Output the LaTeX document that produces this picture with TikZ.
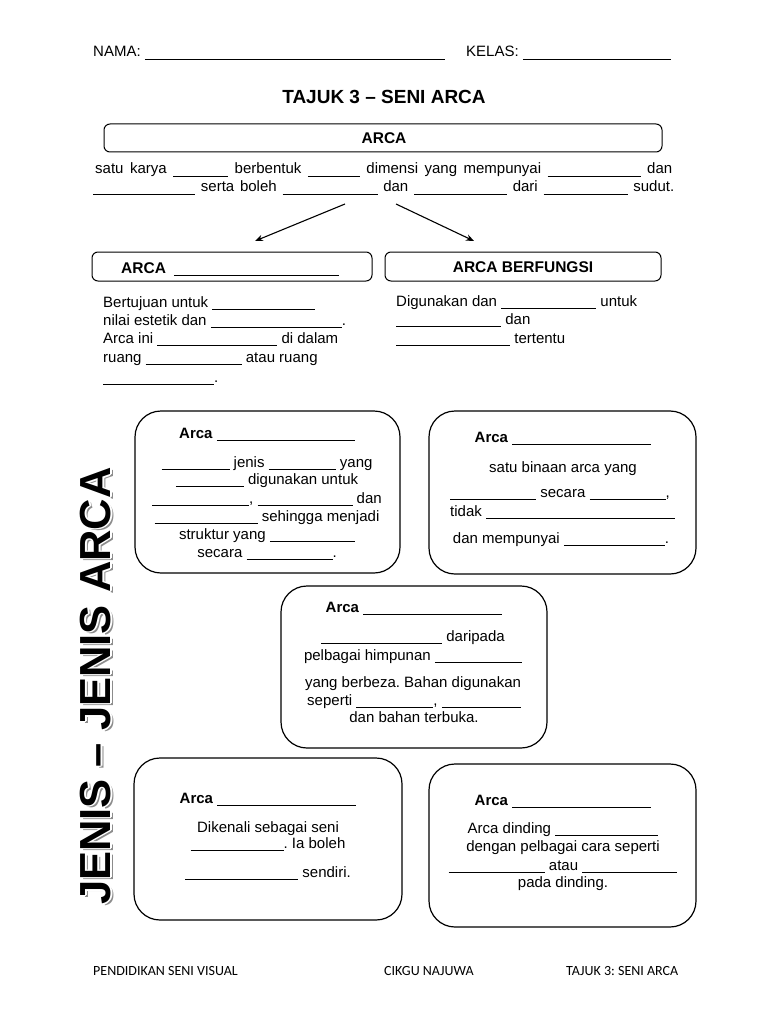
\documentclass[tikz,border=0pt]{standalone}
\usepackage{fontspec}
\setmainfont{Liberation Sans}
\newfontfamily\footfont{Carlito}
\usetikzlibrary{arrows.meta}
\newcommand{\blnk}[1]{\rule[-2.4pt]{#1pt}{0.7pt}}
\frenchspacing
\begin{document}
\begin{tikzpicture}[x=1pt,y=-1pt,
  ln/.style={anchor=base, inner sep=0pt, font=\fontsize{15}{18}\selectfont},
  lnw/.style={ln, anchor=base west},
  card/.style={draw, line width=1.2pt, rounded corners=26pt, inner sep=0pt},
  hdr/.style={draw, line width=1pt, rounded corners=6pt, inner sep=0pt},
  arr/.style={line width=1.1pt, -{Stealth[length=8pt,width=6.5pt]}},
  vt/.style={rotate=90, inner sep=0pt, font=\bfseries\fontsize{43.5}{46}\selectfont},
  foot/.style={anchor=base west, inner sep=0pt, font=\footfont\fontsize{14}{16}\selectfont}]
\fill[white] (0,0) rectangle (768,1024);
\useasboundingbox (0,0) rectangle (768,1024);

% header
\node[lnw] (nama) at (93,57) {NAMA: \blnk{300}};
\node[lnw] (kelas) at (466,57) {KELAS: \blnk{148}};
\node[anchor=base, inner sep=0pt, font=\bfseries\fontsize{19}{22}\selectfont] (title) at (384,104) {TAJUK 3 – SENI ARCA};

% ARCA definition
\node[hdr, minimum width=558pt, minimum height=28pt] (arcabox) at (383,138) {};
\node[ln, font=\bfseries\fontsize{15.5}{18}\selectfont] (arcat) at (384,143.5) {ARCA};
\node[lnw] (def1) at (95,174) {\makebox[577pt][s]{satu karya \blnk{55} berbentuk \blnk{52} dimensi yang mempunyai \blnk{93} dan}};
\node[lnw] (def2) at (93,192) {\makebox[581pt][s]{\blnk{102} serta boleh \blnk{95} dan \blnk{93} dari \blnk{84} sudut.}};

\coordinate (a1s) at (345,204);
\coordinate (a1e) at (255,241);
\coordinate (a2s) at (396,204);
\coordinate (a2e) at (474,241);
\draw[arr] (a1s) -- (a1e);
\draw[arr] (a2s) -- (a2e);

% two sub boxes
\node[hdr, minimum width=280pt, minimum height=29pt] (lbox) at (232,266.5) {};
\node[lnw, font=\bfseries\fontsize{15.5}{18}\selectfont] (lboxt) at (121,273) {ARCA\hspace{8pt}\blnk{165}};
\node[hdr, minimum width=276pt, minimum height=29pt] (rbox) at (523,266.5) {};
\node[ln, font=\bfseries\fontsize{15.5}{18}\selectfont] (rboxt) at (523,272.5) {ARCA BERFUNGSI};

\node[lnw] (l1) at (103,307) {Bertujuan untuk \blnk{103}};
\node[lnw] (l2) at (103,325) {nilai estetik dan \blnk{131}.};
\node[lnw] (l3) at (103,343) {Arca ini \blnk{120} di dalam};
\node[lnw] (l4) at (103,362) {ruang \blnk{96} atau ruang};
\node[lnw] (l5) at (103,382) {\blnk{111}.};

\node[lnw] (r1) at (396,306) {Digunakan dan \blnk{95} untuk};
\node[lnw] (r2) at (396,324) {\blnk{105} dan};
\node[lnw] (r3) at (396,343) {\blnk{114} tertentu};

% vertical title: grey shadow, white outline, black letters
\node[vt, text=black!45] (vshadow) at (99,688) {JENIS – JENIS ARCA};
\foreach \dx/\dy [count=\i] in {1.3/0,-1.3/0,0/1.3,0/-1.3,1/1,1/-1,-1/1,-1/-1}{
  \node[vt, text=white] (vhalo\i) at (96+\dx,686+\dy) {JENIS – JENIS ARCA};
}
\node[vt] (vtitle) at (96,686) {JENIS – JENIS ARCA};

% card 1
\node[card, minimum width=265pt, minimum height=162pt] (c1) at (267.5,492) {};
\node[ln] (c1t) at (267,438) {\textbf{Arca} \blnk{138}};
\node[ln] (c1a) at (267,467) {\blnk{68} jenis \blnk{67} yang};
\node[ln] (c1b) at (267,484) {\blnk{68} digunakan untuk};
\node[ln] (c1c) at (267,503) {\blnk{97}, \blnk{95} dan};
\node[ln] (c1d) at (267,521) {\blnk{103} sehingga menjadi};
\node[ln] (c1e) at (267,539) {struktur yang \blnk{85}};
\node[ln] (c1f) at (267,557) {secara \blnk{86}.};

% card 2
\node[card, minimum width=267pt, minimum height=163pt] (c2) at (562.5,492.5) {};
\node[ln] (c2t) at (563,442) {\textbf{Arca} \blnk{139}};
\node[ln] (c2a) at (563,472) {satu binaan arca yang};
\node[lnw] (c2b) at (450,497) {\blnk{86} secara \blnk{76},};
\node[lnw] (c2c) at (450,516) {tidak \blnk{189}};
\node[ln] (c2d) at (561,543) {dan mempunyai \blnk{101}.};

% card 3
\node[card, minimum width=266pt, minimum height=162pt] (c3) at (414,667) {};
\node[ln] (c3t) at (414,612) {\textbf{Arca} \blnk{139}};
\node[ln] (c3a) at (413,641) {\blnk{121} daripada};
\node[ln] (c3b) at (413,660) {pelbagai himpunan \blnk{87}};
\node[ln] (c3c) at (413,687) {yang berbeza. Bahan digunakan};
\node[ln] (c3d) at (414,705) {seperti \blnk{77}, \blnk{79}};
\node[ln] (c3e) at (414,722) {dan bahan terbuka.};

% card 4
\node[card, minimum width=268pt, minimum height=162pt] (c4) at (268,839) {};
\node[ln] (c4t) at (268,803) {\textbf{Arca} \blnk{139}};
\node[ln] (c4a) at (268,832) {Dikenali sebagai seni};
\node[ln] (c4b) at (268,848) {\blnk{93}. Ia boleh};
\node[ln] (c4c) at (268,877) {\blnk{113} sendiri.};

% card 5
\node[card, minimum width=267pt, minimum height=163pt] (c5) at (562.5,845.5) {};
\node[ln] (c5t) at (563,805) {\textbf{Arca} \blnk{139}};
\node[ln] (c5a) at (563,833) {Arca dinding \blnk{103}};
\node[ln] (c5b) at (563,851) {dengan pelbagai cara seperti};
\node[ln] (c5c) at (563,870) {\blnk{96} atau \blnk{95}};
\node[ln] (c5d) at (563,887) {pada dinding.};

% footer
\node[foot] (f1) at (93,975) {PENDIDIKAN SENI VISUAL};
\node[foot] (f2) at (384,975) {CIKGU NAJUWA};
\node[foot] (f3) at (566,975) {TAJUK 3: SENI ARCA};
\end{tikzpicture}
\end{document}
